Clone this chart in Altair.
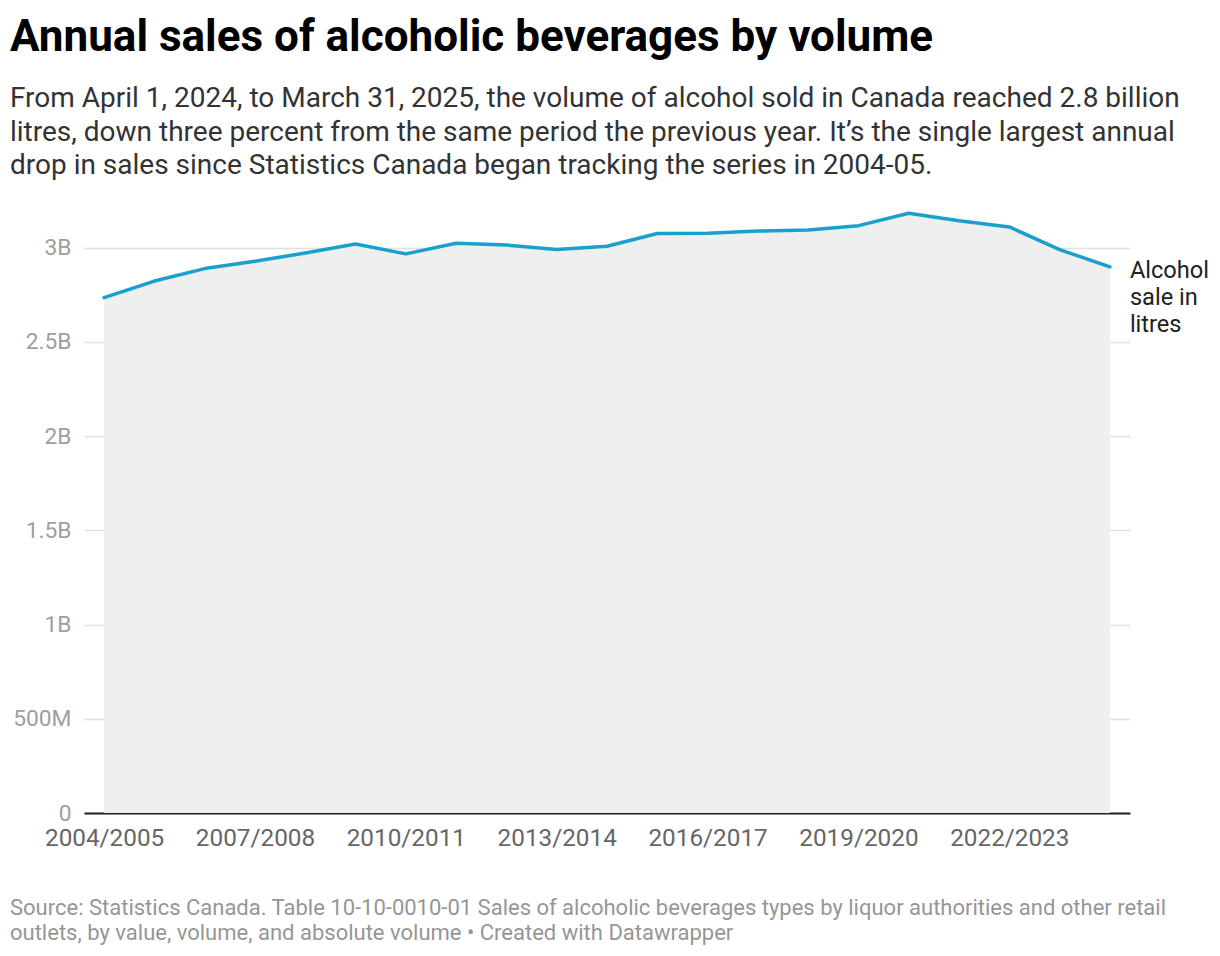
import altair as alt
import pandas as pd

periods = ["2004/2005", "2005/2006", "2006/2007", "2007/2008", "2008/2009",
           "2009/2010", "2010/2011", "2011/2012", "2012/2013", "2013/2014",
           "2014/2015", "2015/2016", "2016/2017", "2017/2018", "2018/2019",
           "2019/2020", "2020/2021", "2021/2022", "2022/2023", "2023/2024",
           "2024/2025"]
volumes_bn = [2.735, 2.823, 2.889, 2.928, 2.972, 3.020, 2.967, 3.024, 3.014,
              2.991, 3.008, 3.075, 3.076, 3.088, 3.094, 3.117, 3.183, 3.143,
              3.110, 2.990, 2.898]
x_tick_labels = ["2004/2005", "2007/2008", "2010/2011", "2013/2014",
                 "2016/2017", "2019/2020", "2022/2023"]
y_ticks = [0, 0.5e9, 1e9, 1.5e9, 2e9, 2.5e9, 3e9]
series_label = ["Alcohol", "sale in", "litres"]

title_text = "Annual sales of alcoholic beverages by volume"
subtitle_lines = [
    "From April 1, 2024, to March 31, 2025, the volume of alcohol sold in Canada reached 2.8 billion",
    "litres, down three percent from the same period the previous year. It\u2019s the single largest annual",
    "drop in sales since Statistics Canada began tracking the series in 2004-05.",
]
footer_lines = [
    "Source: Statistics Canada. Table 10-10-0010-01 Sales of alcoholic beverages types by liquor authorities and other retail",
    "outlets, by value, volume, and absolute volume \u2022 Created with Datawrapper",
]

df = pd.DataFrame({"period": periods, "volume": [v * 1e9 for v in volumes_bn]})

FONT = "Roboto"
W, H = 1046, 603

x_enc = alt.X("period:O", sort=periods,
              scale=alt.Scale(type="point", padding=0.4),
              axis=alt.Axis(values=x_tick_labels, title=None, labelAngle=0,
                            labelFont=FONT, labelFontSize=24.3, labelColor="#666666",
                            labelPadding=13, ticks=False, domain=True,
                            domainColor="#222222", domainWidth=2, grid=False))
y_enc = alt.Y("volume:Q", scale=alt.Scale(domain=[0, 3.2e9], nice=False),
              axis=alt.Axis(values=y_ticks, title=None,
                            labelExpr="datum.value == 0 ? '0' : datum.value >= 1e9 ? format(datum.value/1e9, '~g') + 'B' : format(datum.value/1e6, '~g') + 'M'",
                            labelFont=FONT, labelFontSize=22.8, labelColor="#9e9e9e",
                            labelPadding=13, ticks=False, domain=False,
                            grid=True, gridColor="#e0e0e0", gridWidth=1.5))

base = alt.Chart(df)

area = base.mark_area(color="#efefef").encode(x=x_enc, y=y_enc)
line = base.mark_line(color="#1aa0cf", strokeWidth=3.5, strokeCap="round",
                      strokeJoin="round").encode(x="period:O", y="volume:Q")
end_label = base.transform_filter(alt.datum.period == periods[-1]).mark_text(
    align="left", baseline="top", dx=20, dy=-8, font=FONT, fontSize=23.6,
    lineHeight=27, color="#222222"
).encode(x="period:O", y="volume:Q", text=alt.value(series_label))

footer = alt.Chart(pd.DataFrame({"k": [0]})).mark_text(
    align="left", baseline="middle", font=FONT, fontSize=22, lineHeight=25,
    color="#969696"
).encode(x=alt.value(-74), y=alt.value(698), text=alt.value(footer_lines))

chart = alt.layer(area, line, end_label, footer).properties(
    width=W, height=H,
    title=alt.Title(title_text, subtitle=subtitle_lines, anchor="start", frame="group",
                    dx=-74, font=FONT, fontSize=44, fontWeight="bold", color="#000000",
                    subtitleFont=FONT, subtitleFontSize=28, subtitleColor="#333333",
                    subtitleLineHeight=33.5, subtitlePadding=25, offset=30),
    autosize=alt.AutoSizeParams(type="none"),
    padding={"left": 84, "top": 210, "right": 90, "bottom": 143},
).configure(background="white").configure_view(stroke=None)

chart.save("out.html", embed_options={"renderer": "svg", "actions": False})
